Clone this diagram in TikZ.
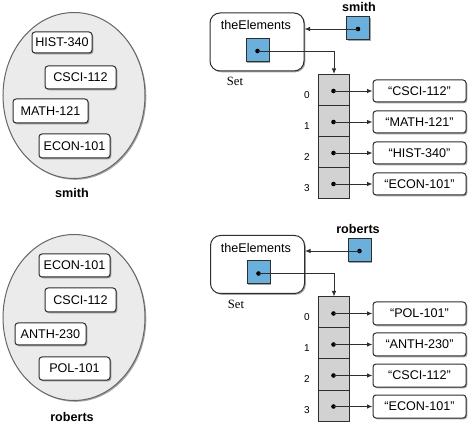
\documentclass[tikz,border=0pt]{standalone}
\usepackage{fontspec}
\setmainfont{Liberation Sans}
\newfontfamily\serifset{Liberation Serif}
\usetikzlibrary{shapes.geometric,arrows.meta,shadows}
\definecolor{ptrblue}{HTML}{6BAFDD}
\definecolor{cellgray}{HTML}{D2D2D2}
\definecolor{ellgray}{HTML}{EBEBEB}
\definecolor{edge}{HTML}{2E2E2E}
\tikzset{
  shade/.style={drop shadow={shadow xshift=1.3pt,shadow yshift=-1.3pt,opacity=0.35,fill=black}},
  course/.style={draw=edge,line width=1pt,rounded corners=3pt,fill=white,shade,
    minimum width=71pt,minimum height=23pt,inner sep=0pt,font=\fontsize{12.6}{14}\selectfont},
  strbox/.style={course,minimum width=93pt,minimum height=22pt},
  setell/.style={ellipse,draw=gray!80!black,line width=1pt,fill=ellgray,shade,
    minimum width=142pt,minimum height=166pt,inner sep=0pt},
  varname/.style={font=\bfseries\fontsize{12.6}{14}\selectfont,inner sep=0pt},
  objbox/.style={draw=edge,line width=1pt,rounded corners=10pt,fill=white,shade,
    minimum width=94pt,minimum height=58pt,inner sep=0pt},
  ptrsq/.style={draw=edge,line width=1pt,fill=ptrblue,shade,minimum size=23pt,inner sep=0pt},
  cell/.style={draw=edge,line width=1pt,fill=cellgray,minimum width=31pt,minimum height=31pt,inner sep=0pt},
  dotc/.style={circle,fill=black,inner sep=0pt,minimum size=4.6pt},
  idx/.style={font=\fontsize{10}{12}\selectfont,inner sep=0pt},
  lbl/.style={font=\fontsize{12.6}{14}\selectfont,inner sep=0pt},
  setlbl/.style={font=\serifset\fontsize{12.6}{14}\selectfont,inner sep=0pt},
  conn/.style={draw=edge,line width=0.9pt,-{Latex[length=5.5pt,width=4.5pt]}},
}
\begin{document}
\begin{tikzpicture}[x=1pt,y=-1pt]
\useasboundingbox[fill=white] (0,0) rectangle (474,430);
% ---------------- top half: smith ----------------
\begin{scope}[name prefix=a-]
  \node[setell] (ell) at (74,95.5) {};
  \node[course,minimum width=60pt,minimum height=21pt] (c1) at (62,42.5) {HIST-340};
  \node[course] (c2) at (80.5,77.5) {CSCI-112};
  \node[course,minimum width=75pt,minimum height=24pt] (c3) at (50.5,111) {MATH-121};
  \node[course,minimum height=24pt] (c4) at (74.5,146) {ECON-101};
  \node[varname] (name) at (72,193) {smith};
  \node[objbox] (obj) at (257,42) {};
  \node[lbl] (field) at (256,25) {theElements};
  \node[setlbl] (set) at (235,81) {Set};
  \node[ptrsq] (inptr) at (257.5,50) {};
  \node[dotc] (indot) at (257.5,51) {};
  \node[ptrsq] (var) at (358,28) {};
  \node[dotc] (vardot) at (358,29) {};
  \node[varname] (vlbl) at (359,7) {smith};
  \foreach \i/\y in {0/90,1/121,2/152,3/183}{
    \node[cell] (cell\i) at (334,\y) {};
    \node[dotc] (d\i) at (333.5,\y+1) {};
    \node[idx] (ix\i) at (307,\y+5) {\i};
  }
  \node[strbox] (s0) at (419.5,91) {\char"201C CSCI-112\char"201D};
  \node[strbox] (s1) at (419.5,122) {\char"201C MATH-121\char"201D};
  \node[strbox] (s2) at (419.5,153) {\char"201C HIST-340\char"201D};
  \node[strbox] (s3) at (419.5,184) {\char"201C ECON-101\char"201D};
  \draw[conn] (vardot.center) -- (vardot.center -| obj.east);
  \draw[conn] (indot.center) -| (cell0.north);
  \foreach \i in {0,1,2,3}{
    \draw[conn] (d\i.center) -- (d\i.center -| s\i.west);
  }
\end{scope}
% ---------------- bottom half: roberts ----------------
\begin{scope}[name prefix=b-]
  \node[setell] (ell) at (74,317.5) {};
  \node[course] (c1) at (74.5,265.5) {ECON-101};
  \node[course,minimum height=24pt] (c2) at (80.5,300) {CSCI-112};
  \node[course,minimum height=22pt] (c3) at (50.5,334) {ANTH-230};
  \node[course] (c4) at (74.5,368.5) {POL-101};
  \node[varname] (name) at (72,417) {roberts};
  \node[objbox] (obj) at (257.5,264.5) {};
  \node[lbl] (field) at (256,248) {theElements};
  \node[setlbl] (set) at (236,304) {Set};
  \node[ptrsq] (inptr) at (258.5,272.5) {};
  \node[dotc] (indot) at (258.5,273.5) {};
  \node[ptrsq] (var) at (359.5,250) {};
  \node[dotc] (vardot) at (359.5,251) {};
  \node[varname] (vlbl) at (358,229) {roberts};
  \foreach \i/\y in {0/312.5,1/343.5,2/374.5,3/405.5}{
    \node[cell] (cell\i) at (334,\y) {};
    \node[dotc] (d\i) at (333.5,\y+1) {};
    \node[idx] (ix\i) at (307,\y+5) {\i};
  }
  \node[strbox,minimum height=23pt] (s0) at (419.5,313.5) {\char"201C POL-101\char"201D};
  \node[strbox,minimum height=23pt] (s1) at (419.5,344.5) {\char"201C ANTH-230\char"201D};
  \node[strbox,minimum height=23pt] (s2) at (419.5,375.5) {\char"201C CSCI-112\char"201D};
  \node[strbox,minimum height=23pt] (s3) at (419.5,406.5) {\char"201C ECON-101\char"201D};
  \draw[conn] (vardot.center) -- (vardot.center -| obj.east);
  \draw[conn] (indot.center) -| (cell0.north);
  \foreach \i in {0,1,2,3}{
    \draw[conn] (d\i.center) -- (d\i.center -| s\i.west);
  }
\end{scope}
\end{tikzpicture}
\end{document}
